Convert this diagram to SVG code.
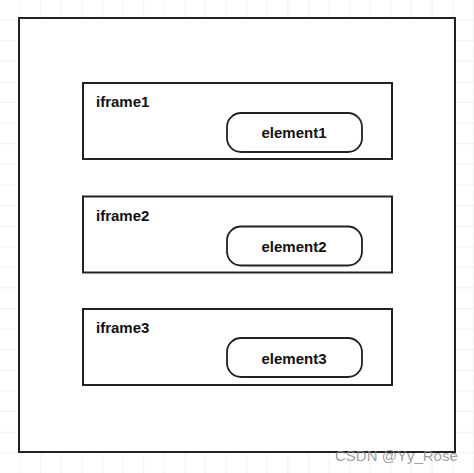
<svg xmlns="http://www.w3.org/2000/svg" width="474" height="473" viewBox="0 0 474 473">
<defs>
<pattern id="grid" width="20.6" height="20.6" patternUnits="userSpaceOnUse">
<path d="M20.6 0V20.6M0 20.6H20.6" fill="none" stroke="#e4e4e4" stroke-width="1"/>
</pattern>
</defs>
<style>
.box{fill:#fff;stroke:#222;stroke-width:2}
.pill{fill:#fff;stroke:#222;stroke-width:1.8}
.t{font-family:"Liberation Sans",Arial,sans-serif;font-weight:bold;font-size:15px;fill:#111}
.wm{font-family:"Liberation Sans",Arial,sans-serif;font-size:15px;fill:#8c8c8c;fill-opacity:0.85}
</style>
<rect x="0" y="0" width="474" height="473" fill="#fff"/>
<rect x="0" y="0" width="474" height="473" fill="url(#grid)"/>
<g id="page">
<rect class="box" x="19" y="18" width="436" height="434"/>
</g>
<g id="iframe1">
<rect class="box" x="83" y="83" width="309" height="76"/>
<text class="t" x="96" y="107">iframe1</text>
</g>
<g id="element1">
<rect class="pill" x="227" y="113" width="135" height="39" rx="14"/>
<text class="t" x="294" y="138" text-anchor="middle">element1</text>
</g>
<g id="iframe2">
<rect class="box" x="83" y="196.5" width="309" height="76"/>
<text class="t" x="96" y="220.5">iframe2</text>
</g>
<g id="element2">
<rect class="pill" x="227" y="226.5" width="135" height="39" rx="14"/>
<text class="t" x="294" y="251.5" text-anchor="middle">element2</text>
</g>
<g id="iframe3">
<rect class="box" x="83" y="309" width="309" height="76"/>
<text class="t" x="96" y="333">iframe3</text>
</g>
<g id="element3">
<rect class="pill" x="227" y="338" width="135" height="39" rx="14"/>
<text class="t" x="294" y="363.5" text-anchor="middle">element3</text>
</g>
<g id="connectors"></g>
<text class="wm" x="335" y="461">CSDN @Yy_Rose</text>
</svg>
